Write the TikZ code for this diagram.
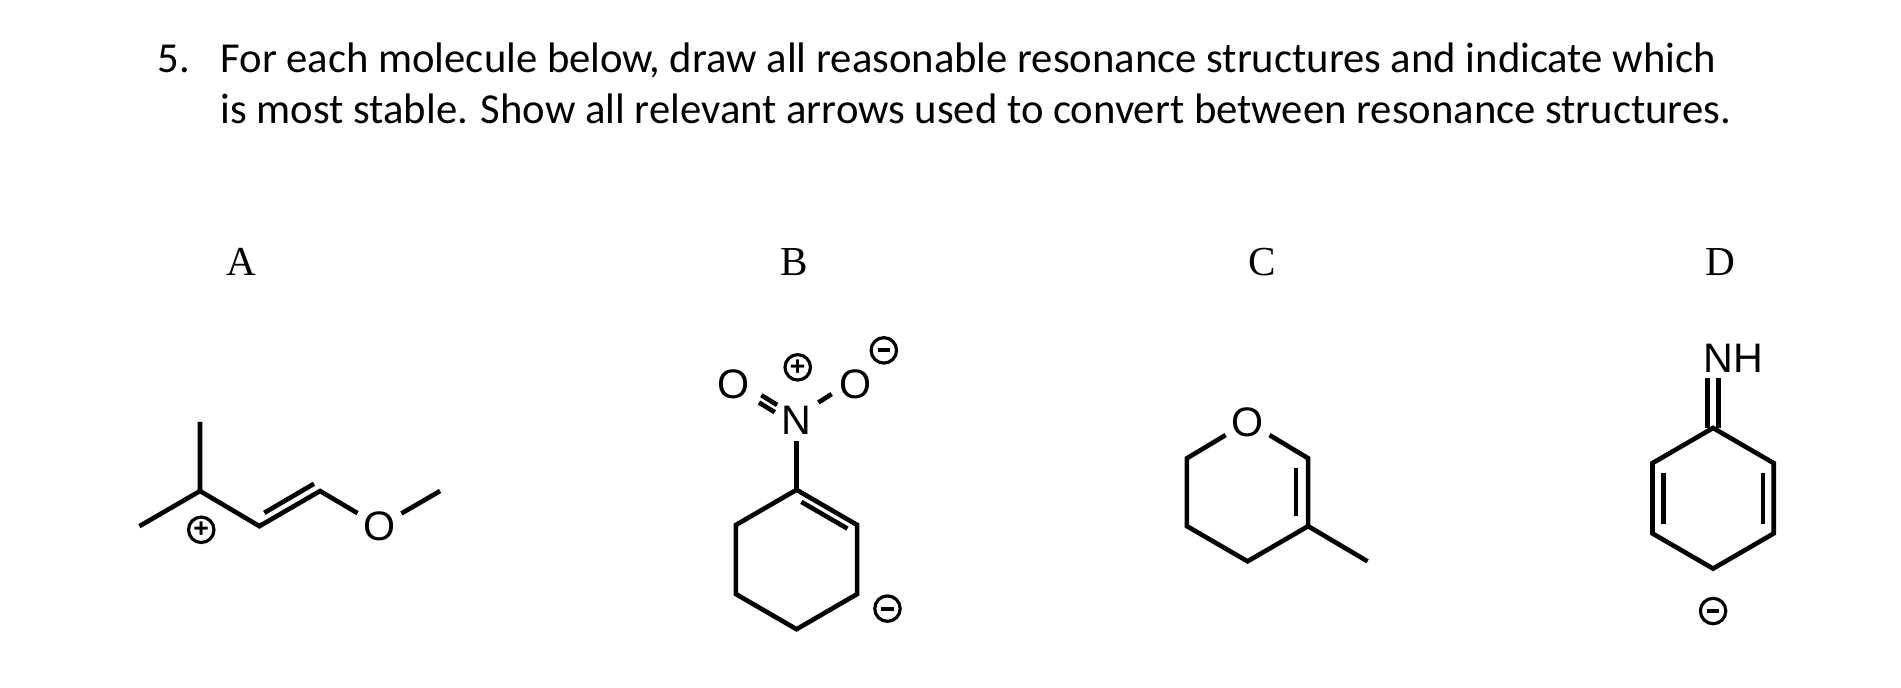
\documentclass[tikz,border=0pt]{standalone}
\usepackage{fontspec}
\setmainfont{Carlito}
\newfontfamily\serif{Liberation Serif}
\newfontfamily\atomf{Liberation Sans}
\begin{document}
\begin{tikzpicture}[x=0.5pt,y=-0.5pt,line width=1.9pt,
  atom/.style={font=\atomf\fontsize{17}{17}\selectfont,inner sep=1.5pt},
  lbl/.style={font=\serif\fontsize{17}{17}\selectfont},
  ttl/.style={anchor=base west,inner sep=0pt,font=\fontsize{17.6}{21}\selectfont},
  chg/.style={circle,draw,line width=1.3pt,minimum size=10.5pt,inner sep=0pt,font=\atomf\bfseries\fontsize{11}{11}\selectfont},
  chgm/.style={chg,path picture={\draw[line width=1.6pt] ([xshift=-2.6pt]path picture bounding box.center)--([xshift=2.6pt]path picture bounding box.center);}}]
\useasboundingbox (0,0) rectangle (1568,567);
\node[ttl] (n5) at (128,60) {5.};
\node[ttl] (t1) at (180,60) {For each molecule below, draw all reasonable resonance structures and indicate which};
\node[ttl] (t2) at (180,102) {is most stable. Show all relevant arrows used to convert between resonance structures.};
\node[lbl] (LA) at (199,216) {A};
\node[lbl] (LB) at (655,216) {B};
\node[lbl] (LC) at (1041,216) {C};
\node[lbl] (LD) at (1419,216) {D};
% A
\coordinate (a1) at (165,348); \coordinate (a2) at (165,405); \coordinate (a3) at (115,434);
\coordinate (a4) at (214,434); \coordinate (a5) at (264,405); \node[atom] (aO) at (313,434) {O};
\coordinate (a6) at (363,405);
\coordinate (a4i) at (218,423); \coordinate (a5i) at (259,399);
\draw (a1)--(a2)--(a3); \draw (a2)--(a4)--(a5)--(aO)--(a6); \draw (a4i)--(a5i);
\node[chg] (aP) at (166,437) {+};
% B
\node[atom] (bN) at (657,347) {N};
\node[atom] (bO1) at (605,317) {O};
\node[atom] (bO2) at (706,317) {O};
\coordinate (b1) at (657,404); \coordinate (b2) at (707,433); \coordinate (b3) at (707,490);
\coordinate (b4) at (657,519); \coordinate (b5) at (607,490); \coordinate (b6) at (607,433);
\coordinate (b1i) at (661,414); \coordinate (b2i) at (699,436);
\draw (bN)--(b1); \draw (b1)--(b2)--(b3)--(b4)--(b5)--(b6)--cycle; \draw (b1i)--(b2i);
\coordinate (bd1) at (626,332); \coordinate (bd2) at (639,340);
\coordinate (bd3) at (628,326); \coordinate (bd4) at (641,334);
\draw (bd1)--(bd2); \draw (bd3)--(bd4);
\coordinate (bs1) at (675,332); \coordinate (bs2) at (686,325); \draw (bs1)--(bs2);
\node[chg] (bP) at (658,303) {+};
\node[chgm] (bM1) at (729,289) {};
\node[chgm] (bM2) at (732,502) {};
% C
\node[atom] (cO) at (1029,348) {O};
\coordinate (c1) at (979,378); \coordinate (c2) at (979,434); \coordinate (c3) at (1029,463);
\coordinate (c4) at (1079,434); \coordinate (c5) at (1079,378); \coordinate (c6) at (1128,463);
\coordinate (c4i) at (1069,426); \coordinate (c5i) at (1069,386);
\draw (cO)--(c1)--(c2)--(c3)--(c4)--(c5)--(cO); \draw (c4)--(c6); \draw (c4i)--(c5i);
% D
\node[atom,anchor=base west] (dN) at (1400,307) {NH};
\coordinate (d0) at (1413,353); \coordinate (d1) at (1363,382); \coordinate (d2) at (1363,440);
\coordinate (d3) at (1413,469); \coordinate (d4) at (1463,440); \coordinate (d5) at (1463,382);
\draw (d0)--(d1)--(d2)--(d3)--(d4)--(d5)--cycle;
\draw (1372,390)--(1372,432); \draw (1454,390)--(1454,432);
\draw ([xshift=-2.2pt]d0)--++(0,-41); \draw ([xshift=2.2pt]d0)--++(0,-41);
\node[chgm] (dM) at (1413,504) {};
\end{tikzpicture}
\end{document}
